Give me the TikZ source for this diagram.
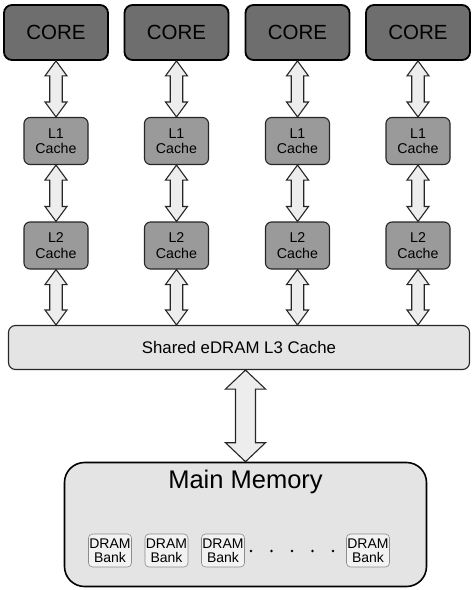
\documentclass[tikz,border=0pt]{standalone}
\usepackage{fontspec}
\setmainfont{Liberation Sans}
\usetikzlibrary{calc}
\definecolor{coregray}{HTML}{6E6E6E}
\definecolor{cachegray}{HTML}{9A9A9A}
\definecolor{lightbox}{HTML}{E4E4E4}
\definecolor{arrowfill}{HTML}{EDEDED}
\definecolor{bankfill}{HTML}{F2F2F2}
\tikzset{
  corebox/.style={draw=black, line width=1.8pt, fill=coregray, rounded corners=8pt,
    minimum width=104pt, minimum height=55pt, inner sep=0pt, font=\fontsize{20.5}{22}\selectfont},
  cachebox/.style={draw=black!85, line width=1.1pt, fill=cachegray, rounded corners=6pt,
    minimum width=64pt, minimum height=47pt, inner sep=0pt, align=center,
    font=\fontsize{14.2}{15.5}\selectfont},
  sharedbox/.style={draw=black!85, line width=1.1pt, fill=lightbox, rounded corners=7pt,
    minimum width=461pt, minimum height=44pt, inner sep=0pt, font=\fontsize{16.8}{18}\selectfont},
  memorybox/.style={draw=black, line width=1.6pt, fill=lightbox, rounded corners=20pt,
    minimum width=362pt, minimum height=124pt, inner sep=0pt},
  bankbox/.style={draw=black!45, line width=0.6pt, fill=bankfill, rounded corners=4pt,
    minimum width=43pt, minimum height=33pt, inner sep=0pt, align=center,
    font=\fontsize{14}{14.5}\selectfont},
  arrowsty/.style={draw=black!85, line width=1.1pt, fill=arrowfill, line join=miter},
  dotnode/.style={circle, fill=black, inner sep=0pt, minimum size=2.6pt}
}
% #1 from node, #2 to node, #3 shaft width, #4 head width, #5 head length
\newcommand\dualarrow[5]{%
  \draw[arrowsty] let \p1=(#1.south), \p2=(#2.north) in
    (\x1,\y1) -- (\x1+#4/2,\y1-#5) -- (\x1+#3/2,\y1-#5) -- (\x1+#3/2,\y2+#5)
    -- (\x1+#4/2,\y2+#5) -- (\x1,\y2) -- (\x1-#4/2,\y2+#5) -- (\x1-#3/2,\y2+#5)
    -- (\x1-#3/2,\y1-#5) -- (\x1-#4/2,\y1-#5) -- cycle;}
\begin{document}
\begin{tikzpicture}[x=1pt,y=-1pt]
\useasboundingbox (0,0) rectangle (474,590);
\foreach \i/\cx in {1/56,2/176.5,3/297.5,4/418}{
  \node[corebox] (core\i) at (\cx,32.5) {CORE};
  \node[cachebox] (lone\i) at (\cx,141) {L1\\Cache};
  \node[cachebox] (ltwo\i) at (\cx,245.5) {L2\\Cache};
}
\node[sharedbox] (shared) at (239,347.5) {Shared eDRAM L3 Cache};
\node[memorybox] (mem) at (245.5,524.5) {};
\node[font=\fontsize{25.5}{27}\selectfont] (memtitle) at (245.5,482) {Main Memory};
\node[bankbox] (bank1) at (110,550.5) {DRAM\\Bank};
\node[bankbox] (bank2) at (166.5,550.5) {DRAM\\Bank};
\node[bankbox] (bank3) at (223,550.5) {DRAM\\Bank};
\node[bankbox] (bank4) at (368,550.5) {DRAM\\Bank};
\foreach \j/\dx in {1/251,2/271.5,3/292,4/312.5,5/333}{
  \node[dotnode] (dot\j) at (\dx,551) {};
}
\foreach \i in {1,2,3,4}{
  \dualarrow{core\i}{lone\i}{12.5pt}{22pt}{15pt}
  \dualarrow{lone\i}{ltwo\i}{12.5pt}{22pt}{15pt}
  \draw[arrowsty] let \p1=(ltwo\i.south), \p2=(shared.north) in
    (\x1,\y1) -- (\x1+11pt,\y1-15pt) -- (\x1+6.25pt,\y1-15pt) -- (\x1+6.25pt,\y2+15pt)
    -- (\x1+11pt,\y2+15pt) -- (\x1,\y2) -- (\x1-11pt,\y2+15pt) -- (\x1-6.25pt,\y2+15pt)
    -- (\x1-6.25pt,\y1-15pt) -- (\x1-11pt,\y1-15pt) -- cycle;
}
\draw[arrowsty] let \p1=(shared.south), \p2=(mem.north) in
    (\x2,\y1) -- (\x2+20pt,\y1-19pt) -- (\x2+10pt,\y1-19pt) -- (\x2+10pt,\y2+19pt)
    -- (\x2+20pt,\y2+19pt) -- (\x2,\y2) -- (\x2-20pt,\y2+19pt) -- (\x2-10pt,\y2+19pt)
    -- (\x2-10pt,\y1-19pt) -- (\x2-20pt,\y1-19pt) -- cycle;
\end{tikzpicture}
\end{document}
